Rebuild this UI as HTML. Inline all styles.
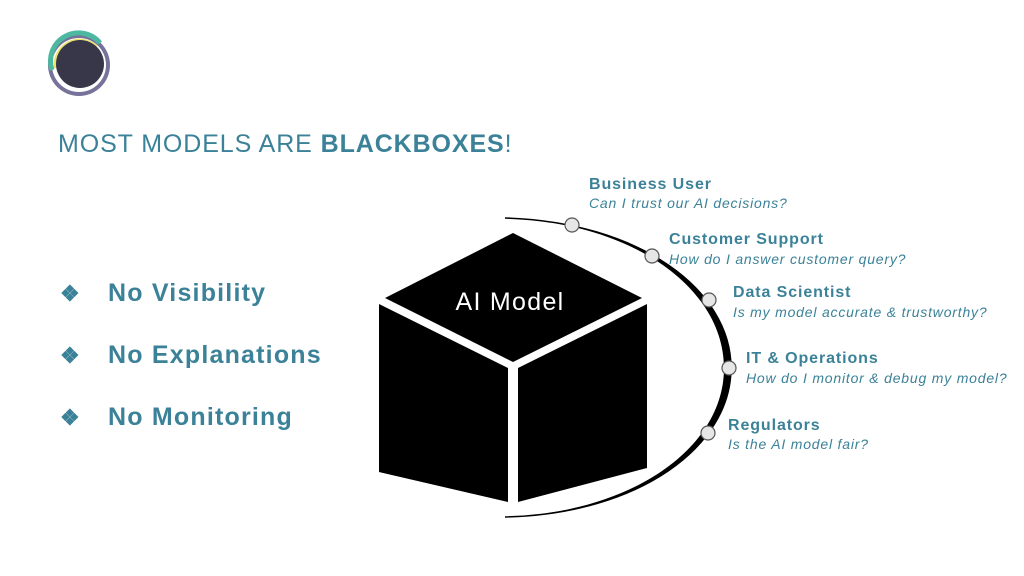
<!DOCTYPE html>
<html><head><meta charset="utf-8"><style>
body{margin:0;width:1024px;height:576px;background:#fff;position:relative;overflow:hidden;font-family:"Liberation Sans",sans-serif;color:#3b8298}
.a{position:absolute;white-space:nowrap}
.t{font-size:25px;letter-spacing:0.9px;left:58px;top:130px}
.b{font-weight:bold;font-size:25px;letter-spacing:1.2px;left:60px}
.b span{display:inline-block;width:48px;font-size:22px;letter-spacing:0}
.h{font-weight:bold;font-size:16px;letter-spacing:0.9px}
.q{font-style:italic;font-size:14px;letter-spacing:0.8px}
</style></head><body>
<svg class="a" style="left:0;top:0" width="1024" height="576">
<circle cx="79" cy="65" r="31" fill="#76729a"/>
<circle cx="79" cy="65" r="27" fill="#fff"/>
<path d="M52 70 A28 28 0 0 1 100 43" fill="none" stroke="#4cb8a0" stroke-width="5"/>
<path d="M56 68 A24 24 0 0 1 96 47" fill="none" stroke="#e8e36a" stroke-width="4"/>
<circle cx="80" cy="64" r="24" fill="#383649"/>
<polygon points="385,298 513,233 642,298 513,362" fill="#000"/>
<polygon points="379,304 508,368 508,502 379,472" fill="#000"/>
<polygon points="518,368 647,304 647,468 518,502" fill="#000"/>
<path d="M505 218 C640 222 731 290 731 368 C731 446 640 514 505 517" fill="none" stroke="#000" stroke-width="1.5"/>
<path d="M505 218 C640 222 731 290 731 368 C731 446 640 514 505 517 C636 512 724 446 724 368 C724 290 636 223 505 218 Z" fill="#000"/>
<g fill="#e6e6e6" stroke="#555" stroke-width="1.2">
<circle cx="572" cy="225" r="7"/><circle cx="652" cy="256" r="7"/><circle cx="709" cy="300" r="7"/><circle cx="729" cy="368" r="7"/><circle cx="708" cy="433" r="7"/>
</g>
<text x="510" y="310" fill="#fff" font-family="Liberation Sans" font-size="25" letter-spacing="1.3" text-anchor="middle">AI Model</text>
</svg>
<div class="a t">MOST MODELS ARE <b>BLACKBOXES</b>!</div>
<div class="a b" style="top:279px"><span>❖</span>No Visibility</div>
<div class="a b" style="top:341px"><span>❖</span>No Explanations</div>
<div class="a b" style="top:403px"><span>❖</span>No Monitoring</div>
<div class="a h" style="left:589px;top:176px">Business User</div>
<div class="a q" style="left:589px;top:195px">Can I trust our AI decisions?</div>
<div class="a h" style="left:669px;top:231px">Customer Support</div>
<div class="a q" style="left:669px;top:251px">How do I answer customer query?</div>
<div class="a h" style="left:733px;top:284px">Data Scientist</div>
<div class="a q" style="left:733px;top:304px">Is my model accurate &amp; trustworthy?</div>
<div class="a h" style="left:746px;top:350px">IT &amp; Operations</div>
<div class="a q" style="left:746px;top:370px">How do I monitor &amp; debug my model?</div>
<div class="a h" style="left:728px;top:417px">Regulators</div>
<div class="a q" style="left:728px;top:436px">Is the AI model fair?</div>
</body></html>
